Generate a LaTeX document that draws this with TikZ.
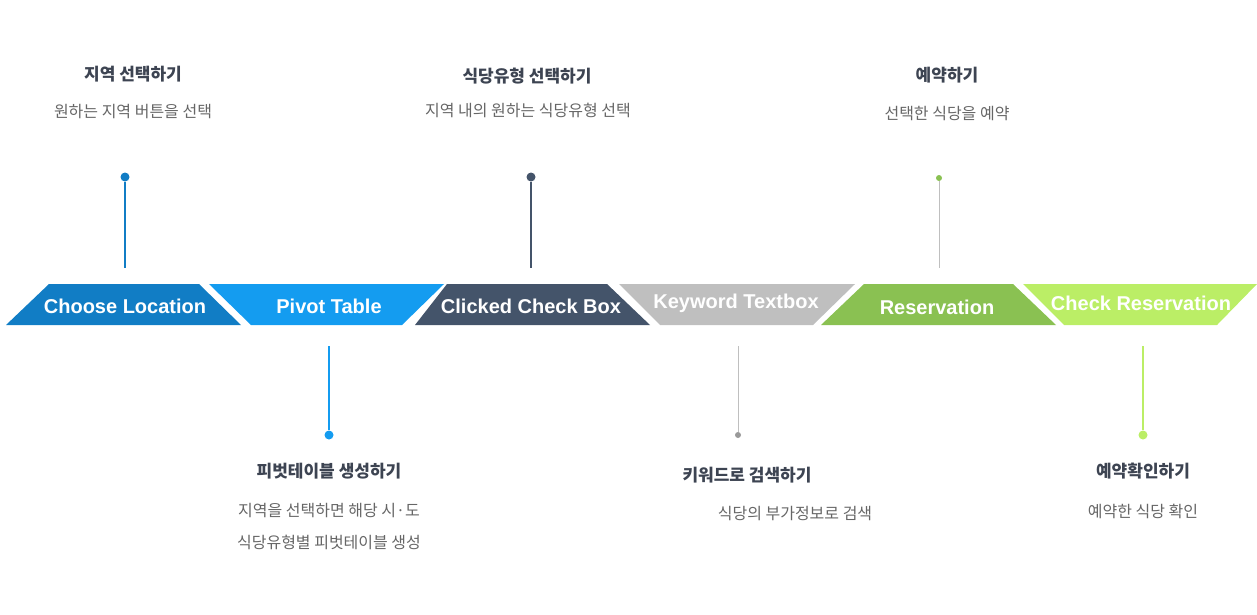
\documentclass[tikz,border=0pt]{standalone}
\usepackage{fontspec}
\setmainfont{Liberation Sans}
\newfontfamily\kr{Noto Sans CJK KR}
\definecolor{cA}{HTML}{117DC5}
\definecolor{cB}{HTML}{149CF0}
\definecolor{cC}{HTML}{44546A}
\definecolor{cD}{HTML}{BFBFBF}
\definecolor{cE}{HTML}{8AC152}
\definecolor{cF}{HTML}{BBEE66}
\definecolor{ttl}{HTML}{3D4452}
\definecolor{sub}{HTML}{666666}
\begin{document}
\begin{tikzpicture}[x=1pt,y=-1pt,
  lab/.style={text=white,font=\fontsize{20}{22}\selectfont\bfseries,inner sep=0},
  ttl/.style={text=ttl,font=\kr\fontsize{17}{20}\selectfont\bfseries,inner sep=0},
  sub/.style={text=sub,font=\kr\fontsize{16}{32}\selectfont,inner sep=0,align=center},
  stem/.style={line width=1.5pt}]
\useasboundingbox (0,0) rectangle (1257,614);
\fill[cA] (49,284) -- (199,284) -- (241,325) -- (6,325) -- cycle;
\fill[cB] (209,284) -- (444,284) -- (402,325) -- (251,325) -- cycle;
\fill[cC] (447,284) -- (607,284) -- (650,325) -- (415,325) -- cycle;
\fill[cD] (619,284) -- (855,284) -- (813,325) -- (660,325) -- cycle;
\fill[cE] (864,284) -- (1013,284) -- (1056,325) -- (821,325) -- cycle;
\fill[cF] (1023,284) -- (1257,284) -- (1217,325) -- (1064,325) -- cycle;
\node[lab] (l1) at (125,306) {Choose Location};
\node[lab] (l2) at (329,306) {Pivot Table};
\node[lab] (l3) at (531,306) {Clicked Check Box};
\node[lab] (l4) at (736,303) {Keyword Textbox};
\node[lab] (l5) at (937,307) {Reservation};
\node[lab] (l6) at (1141,303) {Check Reservation};
% stems
\coordinate (s1) at (125,268); \node[circle,fill=cA,inner sep=0,minimum size=9] (d1) at (125,177) {};
\draw[stem,cA] (d1) -- (s1);
\coordinate (s3) at (531,268); \node[circle,fill=cC,inner sep=0,minimum size=9] (d3) at (531,177) {};
\draw[stem,cC] (d3) -- (s3);
\coordinate (s5) at (939,268); \node[circle,fill=cE,inner sep=0,minimum size=6] (d5) at (939,178) {};
\draw[line width=1pt,cD] (d5) -- (s5);
\coordinate (s2) at (329,346); \node[circle,fill=cB,inner sep=0,minimum size=9] (d2) at (329,435) {};
\draw[stem,cB] (s2) -- (d2);
\coordinate (s4) at (738,346); \node[circle,fill=cD!80!black,inner sep=0,minimum size=6] (d4) at (738,435) {};
\draw[line width=1pt,cD] (s4) -- (d4);
\coordinate (s6) at (1143,346); \node[circle,fill=cF,inner sep=0,minimum size=9] (d6) at (1143,435) {};
\draw[stem,cF] (s6) -- (d6);
% texts
\node[ttl] (t1) at (133,74) {지역 선택하기};
\node[sub] (u1) at (133,112) {원하는 지역 버튼을 선택};
\node[ttl] (t3) at (527,76) {식당유형 선택하기};
\node[sub] (u3) at (528,110) {지역 내의 원하는 식당유형 선택};
\node[ttl] (t5) at (947,75) {예약하기};
\node[sub] (u5) at (947,114) {선택한 식당을 예약};
\node[ttl] (t2) at (329,471) {피벗테이블 생성하기};
\node[sub] (u2) at (329,527) {지역을 선택하면 해당 시·도\\식당유형별 피벗테이블 생성};
\node[ttl] (t4) at (747,475) {키워드로 검색하기};
\node[sub] (u4) at (795,514) {식당의 부가정보로 검색};
\node[ttl] (t6) at (1143,471) {예약확인하기};
\node[sub] (u6) at (1143,511) {예약한 식당 확인};
\end{tikzpicture}
\end{document}
